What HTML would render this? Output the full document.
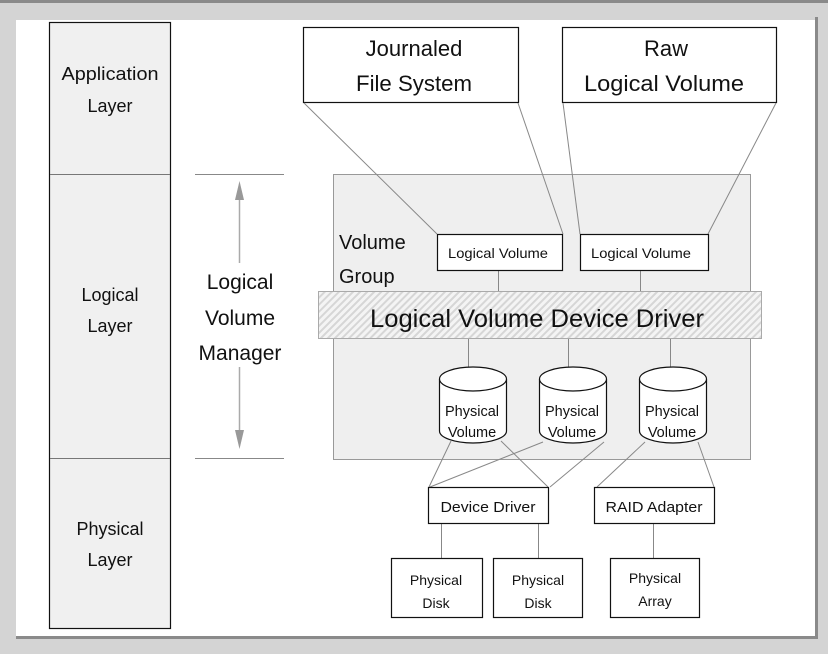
<!DOCTYPE html>
<html><head><meta charset="utf-8"><style>
html,body{margin:0;padding:0;background:#d4d4d4;}
svg{display:block;}
text{font-family:"Liberation Sans",sans-serif;fill:#111;}
</style></head><body>
<svg width="828" height="654" viewBox="0 0 828 654" xmlns="http://www.w3.org/2000/svg">
<defs>
<pattern id="h" width="5" height="5" patternUnits="userSpaceOnUse" patternTransform="rotate(45)">
<rect width="5" height="5" fill="#f4f4f4"/><rect width="2" height="5" fill="#d6d6d6"/>
</pattern>
</defs>
<rect x="0" y="0" width="828" height="654" fill="#d4d4d4"/>
<rect x="0" y="0" width="828" height="3" fill="#8a8a8a"/>
<rect x="16" y="20" width="800" height="617" fill="#fff"/>
<rect x="815" y="17" width="3" height="622" fill="#8a8a8a"/>
<rect x="16" y="636" width="802" height="3" fill="#8a8a8a"/>

<rect x="49.5" y="22.5" width="121" height="606" fill="#f0f0f0" stroke="#111" stroke-width="1.2"/>
<line x1="50" y1="174.5" x2="170" y2="174.5" stroke="#777"/>
<line x1="50" y1="458.5" x2="170" y2="458.5" stroke="#777"/>
<g font-size="18" text-anchor="middle">
<text x="110" y="80" textLength="97" lengthAdjust="spacingAndGlyphs">Application</text><text x="110" y="112">Layer</text>
<text x="110" y="301">Logical</text><text x="110" y="332">Layer</text>
<text x="110" y="535">Physical</text><text x="110" y="566">Layer</text>
</g>

<line x1="195" y1="174.5" x2="284" y2="174.5" stroke="#888"/>
<line x1="195" y1="458.5" x2="284" y2="458.5" stroke="#888"/>
<line x1="239.5" y1="195" x2="239.5" y2="263" stroke="#aaa" stroke-width="1.5"/>
<polygon points="239.5,181 235,200 244,200" fill="#999"/>
<line x1="239.5" y1="367" x2="239.5" y2="432" stroke="#aaa" stroke-width="1.5"/>
<polygon points="239.5,449 235,430 244,430" fill="#999"/>
<g font-size="21" text-anchor="middle">
<text x="240" y="289">Logical</text><text x="240" y="325">Volume</text><text x="240" y="360">Manager</text>
</g>

<rect x="333.5" y="174.5" width="417" height="285" fill="#efefef" stroke="#999"/>
<text x="339" y="249" font-size="20">Volume</text>
<text x="339" y="283" font-size="20">Group</text>

<rect x="303.5" y="27.5" width="215" height="75" fill="#fff" stroke="#111" stroke-width="1.2"/>
<text x="414" y="56" font-size="22" text-anchor="middle">Journaled</text>
<text x="414" y="91" font-size="22" text-anchor="middle" textLength="116" lengthAdjust="spacingAndGlyphs">File System</text>
<rect x="562.5" y="27.5" width="214" height="75" fill="#fff" stroke="#111" stroke-width="1.2"/>
<text x="666" y="56" font-size="22" text-anchor="middle">Raw</text>
<text x="664" y="91" font-size="22" text-anchor="middle" textLength="160" lengthAdjust="spacingAndGlyphs">Logical Volume</text>

<g stroke="#888" stroke-width="1">
<line x1="304" y1="103" x2="437" y2="234"/>
<line x1="518" y1="103" x2="563" y2="234"/>
<line x1="563" y1="103" x2="580" y2="234"/>
<line x1="776" y1="103" x2="708" y2="234"/>
<line x1="498.5" y1="271" x2="498.5" y2="292"/>
<line x1="640.5" y1="271" x2="640.5" y2="292"/>
<line x1="468.5" y1="339" x2="468.5" y2="370"/>
<line x1="568.5" y1="339" x2="568.5" y2="370"/>
<line x1="670.5" y1="339" x2="670.5" y2="370"/>
<line x1="451" y1="441" x2="429" y2="487"/>
<line x1="501" y1="441" x2="548" y2="487"/>
<line x1="543" y1="442" x2="430" y2="487"/>
<line x1="604" y1="442" x2="550" y2="487"/>
<line x1="645" y1="442" x2="597" y2="487"/>
<line x1="698" y1="442" x2="714" y2="487"/>
<line x1="441.5" y1="524" x2="441.5" y2="558"/>
<line x1="538.5" y1="524" x2="538.5" y2="558"/>
<line x1="653.5" y1="524" x2="653.5" y2="558"/>
</g>

<rect x="437.5" y="234.5" width="125" height="36" fill="#fff" stroke="#111" stroke-width="1.2"/>
<text x="498" y="258" font-size="14" text-anchor="middle" textLength="100" lengthAdjust="spacingAndGlyphs">Logical Volume</text>
<rect x="580.5" y="234.5" width="128" height="36" fill="#fff" stroke="#111" stroke-width="1.2"/>
<text x="641" y="258" font-size="14" text-anchor="middle" textLength="100" lengthAdjust="spacingAndGlyphs">Logical Volume</text>

<rect x="318.5" y="291.5" width="443" height="47" fill="url(#h)" stroke="#aaa"/>
<text x="537" y="327" font-size="25" text-anchor="middle" textLength="334" lengthAdjust="spacingAndGlyphs">Logical Volume Device Driver</text>

<g stroke="#111" stroke-width="1.2" fill="#fff">
<path d="M439.5,379 V431 A33.5,12 0 0 0 506.5,431 V379"/>
<ellipse cx="473" cy="379" rx="33.5" ry="12"/>
<path d="M539.5,379 V431 A33.5,12 0 0 0 606.5,431 V379"/>
<ellipse cx="573" cy="379" rx="33.5" ry="12"/>
<path d="M639.5,379 V431 A33.5,12 0 0 0 706.5,431 V379"/>
<ellipse cx="673" cy="379" rx="33.5" ry="12"/>
</g>
<g font-size="14.5" text-anchor="middle">
<text x="472" y="416">Physical</text><text x="472" y="437">Volume</text>
<text x="572" y="416">Physical</text><text x="572" y="437">Volume</text>
<text x="672" y="416">Physical</text><text x="672" y="437">Volume</text>
</g>

<rect x="428.5" y="487.5" width="120" height="36" fill="#fff" stroke="#111" stroke-width="1.2"/>
<text x="488" y="512" font-size="15" text-anchor="middle" textLength="95" lengthAdjust="spacingAndGlyphs">Device Driver</text>
<rect x="594.5" y="487.5" width="120" height="36" fill="#fff" stroke="#111" stroke-width="1.2"/>
<text x="654" y="512" font-size="15" text-anchor="middle" textLength="97" lengthAdjust="spacingAndGlyphs">RAID Adapter</text>

<g font-size="14" text-anchor="middle">
<rect x="391.5" y="558.5" width="91" height="59" fill="#fff" stroke="#111" stroke-width="1.2"/>
<text x="436" y="585">Physical</text>
<text x="436" y="608">Disk</text>
<rect x="493.5" y="558.5" width="89" height="59" fill="#fff" stroke="#111" stroke-width="1.2"/>
<text x="538" y="585">Physical</text>
<text x="538" y="608">Disk</text>
<rect x="610.5" y="558.5" width="89" height="59" fill="#fff" stroke="#111" stroke-width="1.2"/>
<text x="655" y="583">Physical</text>
<text x="655" y="606">Array</text>
</g>
</svg>
</body></html>
